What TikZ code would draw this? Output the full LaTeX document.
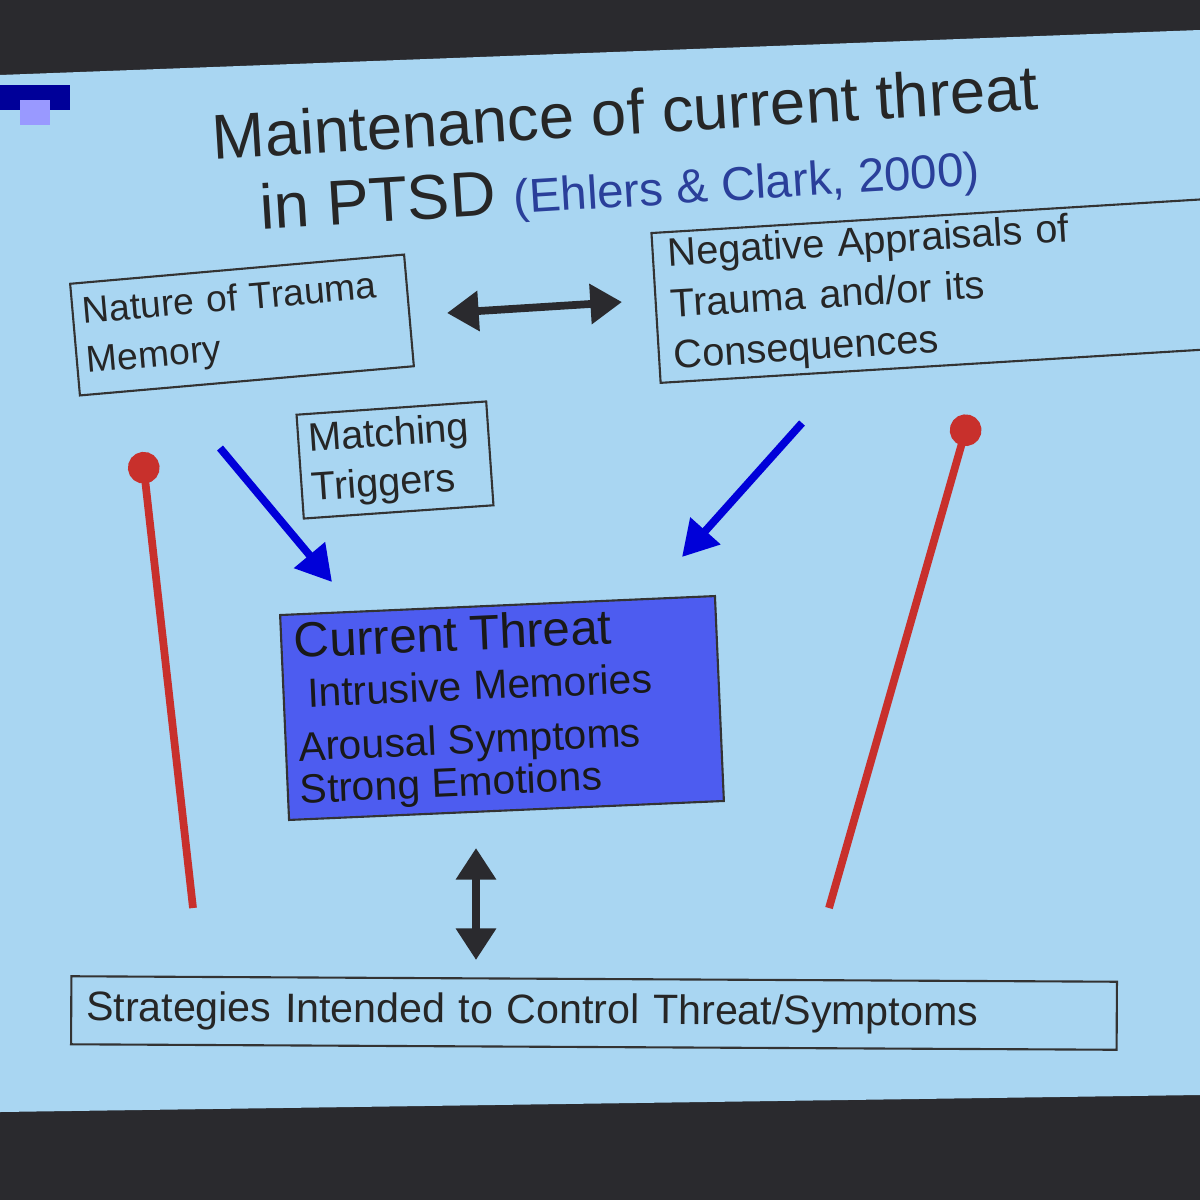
\documentclass[tikz,border=0pt]{standalone}
\usepackage{fontspec}
\setmainfont{Liberation Sans}
\usetikzlibrary{arrows.meta}
\definecolor{slide}{HTML}{A9D6F2}
\definecolor{dark}{HTML}{2A2A2E}
\definecolor{cblue}{HTML}{4D5CF0}
\definecolor{tblue}{HTML}{2A3F9A}
\definecolor{rline}{HTML}{C8302C}
\tikzset{
  box/.style={draw=black!80, line width=0.6pt, inner sep=0pt, align=left, text=black!85},
  blk/.style={line width=2.2pt, draw=dark, {Triangle[length=9pt,width=11pt]}-{Triangle[length=9pt,width=11pt]}},
  blu/.style={line width=2.2pt, draw=blue!85!black, -{Triangle[length=10pt,width=11pt]}},
  red/.style={line width=2.2pt, draw=rline, {Circle[length=9pt]}-},
}
\begin{document}
\begin{tikzpicture}[x=0.01cm,y=-0.01cm]
\useasboundingbox (0,0) rectangle (1200,1200);
\fill[dark] (0,0) rectangle (1200,1200);
\fill[slide] (0,75) -- (1200,30) -- (1200,1095) -- (0,1112) -- cycle;
\fill[blue!60!black] (0,85) rectangle (70,110);
\fill[blue!40] (20,100) rectangle (50,125);
% title
\node[rotate=3.5, font=\fontsize{18}{21}\selectfont, text=black!85] (t1) at (625,112) {Maintenance of current threat};
\node[rotate=3.5, font=\fontsize{18}{21}\selectfont, text=black!85, anchor=west] (t2) at (248,212) {in PTSD \fontsize{13.5}{16}\selectfont\color{tblue}(Ehlers \& Clark, 2000)};
% boxes
\node[box, rotate=5, minimum width=3.35cm, minimum height=1.12cm, font=\fontsize{10.6}{14}\selectfont, text width=3.15cm] (nat) at (242,325) {Nature of Trauma\\Memory};
\node[box, rotate=3.5, minimum width=5.6cm, minimum height=1.5cm, font=\fontsize{11.3}{14.5}\selectfont, text width=5.3cm, anchor=west] (neg) at (655,308) {Negative Appraisals of\\Trauma and/or its\\Consequences};
\node[box, rotate=4, minimum width=1.9cm, minimum height=1.04cm, font=\fontsize{11.3}{14}\selectfont, text width=1.7cm] (mat) at (395,460) {Matching\\Triggers};
\node[box, fill=cblue, rotate=2.5, minimum width=4.35cm, minimum height=2.05cm, text width=4.1cm, text=black!90] (cur) at (502,708) {{\fontsize{14}{16}\selectfont Current Threat}\\[-1pt]\fontsize{11.6}{15.2}\selectfont\ Intrusive Memories\\Arousal Symptoms\\Strong Emotions};
\node[box, rotate=-0.3, minimum width=10.45cm, minimum height=0.68cm, font=\fontsize{11.7}{14}\selectfont, text width=10.15cm] (str) at (594,1013) {Strategies Intended to Control Threat/Symptoms};
% connectors
\coordinate (a1) at (447,313); \coordinate (a2) at (622,302);
\draw[blk] (a1) -- (a2);
\coordinate (b1) at (220,448); \coordinate (b2) at (332,582);
\draw[blu] (b1) -- (b2);
\coordinate (c1) at (802,423); \coordinate (c2) at (682,557);
\draw[blu] (c1) -- (c2);
\coordinate (d1) at (476,848); \coordinate (d2) at (476,960);
\draw[blk] (d1) -- (d2);
\coordinate (r1) at (142,452); \coordinate (r2) at (193,908);
\draw[red] (r1) -- (r2);
\coordinate (s1) at (970,415); \coordinate (s2) at (829,908);
\draw[red] (s1) -- (s2);
\end{tikzpicture}
\end{document}
